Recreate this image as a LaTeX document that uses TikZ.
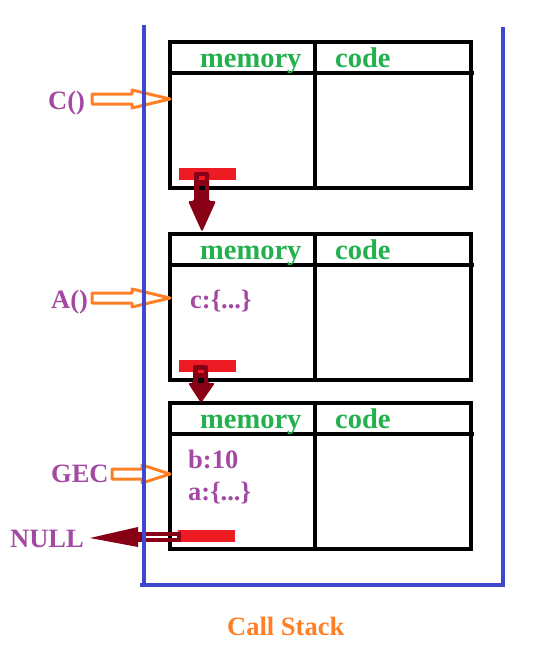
\documentclass[tikz,border=0pt]{standalone}
\usepackage{fontspec}
\setmainfont{Liberation Serif}
\definecolor{pgreen}{HTML}{22B14C}
\definecolor{ppurple}{HTML}{A349A4}
\definecolor{porange}{HTML}{FF7F27}
\definecolor{pred}{HTML}{ED1C24}
\definecolor{pdark}{HTML}{880015}
\definecolor{pblue}{HTML}{3F48CC}
\begin{document}
\begin{tikzpicture}[x=1pt,y=-1pt,
  frame/.style={draw=black,line width=3.5pt},
  hdr/.style={text=pgreen,font=\bfseries\fontsize{28.5}{30}\selectfont,anchor=base west,inner sep=0pt},
  lbl/.style={text=ppurple,font=\bfseries\fontsize{26.5}{30}\selectfont,anchor=base west,inner sep=0pt},
  oarrow/.style={draw=porange,line width=3pt,line join=round},
  redbar/.style={fill=pred},
  darr/.style={fill=pdark}]
\useasboundingbox (0,0) rectangle (539,669);
% frames
\foreach \t/\n in {42/f1,234/f2,403/f3}{
  \draw[frame] (170,\t) rectangle (471,\t+146);
  \draw[frame] (170,\t+31) -- (474,\t+31);
  \draw[frame] (315,\t) -- (315,\t+146);
  \node[hdr] (\n m) at (200,\t+25) {memory};
  \node[hdr] (\n c) at (335,\t+25) {code};
}
% red bars
\fill[redbar] (179,168) rectangle (236,180);
\fill[redbar] (179,360) rectangle (236,372);
\fill[redbar] (178,530) rectangle (235,542);
% dark red down arrows
\fill[darr,rounded corners=2pt] (194,172) -- (209,172) -- (209,201) -- (216,201) -- (202,232) -- (188,201) -- (194,201) -- cycle;
\fill[pred] (199,176) rectangle (205,180);
\fill[black] (199,186) rectangle (205,190);
\fill[darr,rounded corners=2pt] (193,365) -- (208,365) -- (208,383) -- (215,383) -- (201,403) -- (188,383) -- (193,383) -- cycle;
\fill[pred] (198,370) rectangle (204,373);
\fill[black] (198,378) rectangle (204,383);
% NULL arrow
\draw[pdark,line width=4pt] (179,534) rectangle (140,540);
\fill[darr] (138,527) -- (138,547) -- (90,538) -- cycle;
% labels
\node[lbl] (cl) at (48,109) {C()};
\node[lbl] (al) at (51,308) {A()};
\node[lbl] (gl) at (51,482) {GEC};
\node[lbl] (nl) at (10,547) {NULL};
\node[lbl] (cc) at (190,308) {c:\{...\}};
\node[lbl] (bb) at (188,468) {b:10};
\node[lbl] (aa) at (188,500) {a:\{...\}};
\node[lbl,text=porange] (cs) at (227,635) {Call Stack};
% orange arrows
\draw[oarrow] (92,94) -- (132,94) -- (132,90) -- (170,99) -- (132,108) -- (132,104) -- (92,104) -- cycle;
\draw[oarrow] (92,293) -- (132,293) -- (132,289) -- (170,298) -- (132,307) -- (132,303) -- (92,303) -- cycle;
\draw[oarrow] (112,469) -- (142,469) -- (142,465) -- (170,474) -- (142,483) -- (142,479) -- (112,479) -- cycle;
% blue call stack container
\draw[pblue,line width=4pt] (144,25) -- (144,587);
\draw[pblue,line width=4pt] (140,585) -- (505,585);
\draw[pblue,line width=4pt] (503,27) -- (503,587);
\end{tikzpicture}
\end{document}
